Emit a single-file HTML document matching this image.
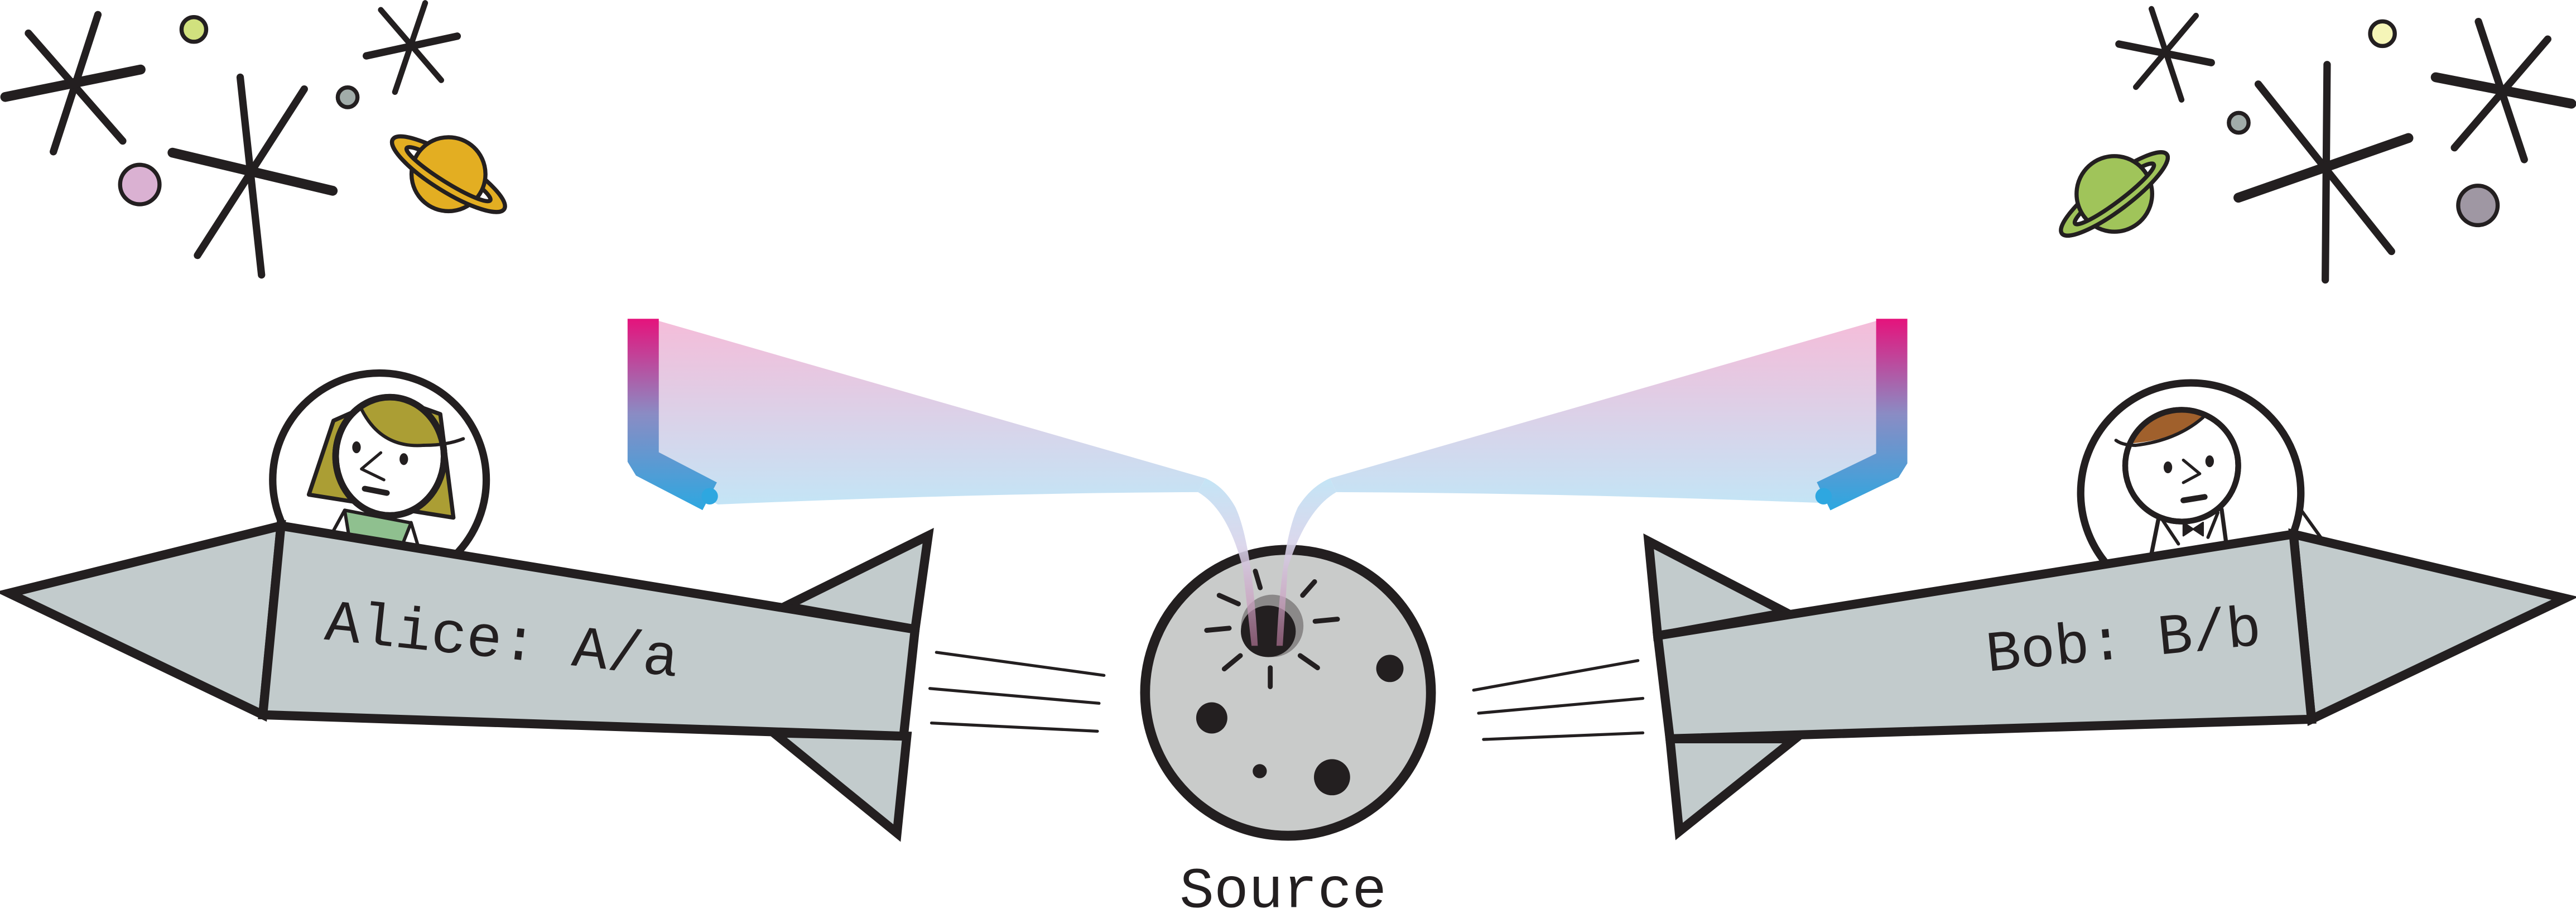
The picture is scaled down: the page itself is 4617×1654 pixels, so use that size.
<!DOCTYPE html>
<html><head><meta charset="utf-8"><style>html,body{margin:0;padding:0;background:#fff}svg{display:block}</style></head>
<body>
<svg width="4617" height="1654" viewBox="0 0 1568 561.7" xmlns="http://www.w3.org/2000/svg">
<defs>
<linearGradient id="bar" x1="0" y1="194" x2="0" y2="310" gradientUnits="userSpaceOnUse"><stop offset="0" stop-color="#e5137c"/><stop offset="0.5" stop-color="#8a8cc4"/><stop offset="1" stop-color="#2ea7e0"/></linearGradient>
<linearGradient id="fan" x1="0" y1="194" x2="0" y2="308" gradientUnits="userSpaceOnUse"><stop offset="0" stop-color="#f5bcd9"/><stop offset="1" stop-color="#c3e5f6"/></linearGradient>
<linearGradient id="tube" x1="0" y1="290" x2="0" y2="395" gradientUnits="userSpaceOnUse"><stop offset="0" stop-color="#c3e5f6" stop-opacity="1"/><stop offset="0.4" stop-color="#d8d3ea" stop-opacity="0.9"/><stop offset="1" stop-color="#c07aa0" stop-opacity="0.6"/></linearGradient>
<clipPath id="af"><ellipse cx="237.3" cy="277.7" rx="33" ry="36"/></clipPath>
<clipPath id="bf"><ellipse cx="1328" cy="283.4" rx="34.4" ry="34"/></clipPath>
<clipPath id="front"><rect x="-60" y="0" width="120" height="40"/></clipPath>
</defs>
<g stroke="#231f20" stroke-linecap="round" fill="none">
<g stroke-width="4.5">
<line x1="17.3" y1="20.2" x2="74.7" y2="85.8"/><line x1="59.6" y1="8.9" x2="32.5" y2="92.3"/><line x1="3.2" y1="59" x2="85.6" y2="42.3" stroke-width="6"/>
<line x1="146.2" y1="47" x2="159.2" y2="167.3"/><line x1="185.2" y1="54.2" x2="120.2" y2="155.4"/><line x1="105" y1="92.9" x2="202.5" y2="116.1" stroke-width="6"/>
<line x1="231.8" y1="6" x2="268.6" y2="48.8" stroke-width="3.5"/><line x1="258.8" y1="1.8" x2="240.4" y2="56" stroke-width="3.5"/><line x1="223" y1="34" x2="278.3" y2="22" stroke-width="4.5"/>
<line x1="1309.6" y1="5.4" x2="1327.9" y2="60.7" stroke-width="3.5"/><line x1="1336.7" y1="9.5" x2="1300.1" y2="53" stroke-width="3.5"/><line x1="1289.8" y1="26.8" x2="1346" y2="38.1"/>
<line x1="1416.5" y1="39.3" x2="1415.4" y2="170.3"/><line x1="1374.6" y1="51.2" x2="1455.7" y2="153"/><line x1="1362.5" y1="120.3" x2="1466" y2="84" stroke-width="6"/>
<line x1="1508.6" y1="13.1" x2="1536.5" y2="97.1"/><line x1="1550.8" y1="23.8" x2="1494" y2="89.9"/><line x1="1482.6" y1="47" x2="1565.2" y2="63.1" stroke-width="6"/>
</g>
<g stroke-width="2.5">
<circle cx="118" cy="17.9" r="7.5" fill="#d1e17e"/><circle cx="211.6" cy="59.2" r="6" fill="#a1aca9"/><circle cx="85.1" cy="112.3" r="12" fill="#dab1d2"/>
<circle cx="1450.2" cy="20.5" r="7.5" fill="#f5f5b8"/><circle cx="1362.7" cy="74.7" r="6" fill="#a1aca9"/><circle cx="1508.3" cy="125" r="12" fill="#9f97a3"/>
</g>
<g transform="translate(273,106) rotate(32)" stroke-width="2.5">
<path d="M-40,0 a40,10.5 0 1,0 80,0 a40,10.5 0 1,0 -80,0 Z M-30,0 a30,5 0 1,0 60,0 a30,5 0 1,0 -60,0 Z" fill="#e3ae22" fill-rule="evenodd"/>
<circle cx="0" cy="0" r="22.5" fill="#e3ae22"/>
<path clip-path="url(#front)" d="M-40,0 a40,10.5 0 1,0 80,0 a40,10.5 0 1,0 -80,0 Z M-30,0 a30,5 0 1,0 60,0 a30,5 0 1,0 -60,0 Z" fill="#e3ae22" fill-rule="evenodd"/>
</g>
<g transform="translate(1287,118) rotate(-37)" stroke-width="2.5">
<path d="M-40,0 a40,10 0 1,0 80,0 a40,10 0 1,0 -80,0 Z M-30,0 a30,5 0 1,0 60,0 a30,5 0 1,0 -60,0 Z" fill="#a0c45a" fill-rule="evenodd"/>
<circle cx="0" cy="0" r="23" fill="#a0c45a"/>
<path clip-path="url(#front)" d="M-40,0 a40,10 0 1,0 80,0 a40,10 0 1,0 -80,0 Z M-30,0 a30,5 0 1,0 60,0 a30,5 0 1,0 -60,0 Z" fill="#a0c45a" fill-rule="evenodd"/>
</g>
</g>

<path d="M400,195 L733.8,291.1 L729.2,299.5 Q600,300 437,307 L400,288 Z" fill="url(#fan)"/>
<path d="M1143,195 L809.6,291.1 L813.4,299.5 Q950,300 1107,306 L1143,288 Z" fill="url(#fan)"/>
<path d="M391.5,194 L391.5,281 L432,302" stroke="url(#bar)" stroke-width="19" fill="none" stroke-linejoin="bevel"/>
<circle cx="432" cy="302" r="5" fill="#2ea7e0"/>
<path d="M1151.5,194 L1151.5,282 L1110,302" stroke="url(#bar)" stroke-width="19" fill="none" stroke-linejoin="bevel"/>
<circle cx="1110" cy="302" r="5" fill="#2ea7e0"/>

<circle cx="784" cy="421.6" r="87" fill="#c9cbca" stroke="#231f20" stroke-width="6"/>
<circle cx="774.4" cy="380.9" r="19" fill="#8b8989"/>
<ellipse cx="772" cy="384.2" rx="16.7" ry="15.7" fill="#231f20"/>
<g stroke="#231f20" stroke-width="3" stroke-linecap="round">
<line x1="764.1" y1="347.6" x2="767.1" y2="357.7"/><line x1="742.1" y1="362.3" x2="753.8" y2="367.5"/><line x1="734.5" y1="383.6" x2="748.2" y2="382.3"/><line x1="745.2" y1="407.1" x2="755" y2="399"/><line x1="773.2" y1="406.4" x2="773.2" y2="417.9"/><line x1="791.4" y1="399" x2="802" y2="406.4"/><line x1="800.5" y1="378.1" x2="814.1" y2="376.8"/><line x1="792.9" y1="362.3" x2="800.2" y2="354"/>
</g>
<g fill="#231f20"><circle cx="846" cy="406.8" r="8.3"/><circle cx="737.6" cy="436.9" r="9.5"/><circle cx="766.8" cy="469.3" r="4.3"/><circle cx="810.8" cy="473" r="11"/></g>
<path d="M729.2,299.5 Q747.4,310 756.5,345.7 L761.8,393 L765.6,393 Q762,330 752,308.7 Q745,296 733.8,291.1 Z" fill="url(#tube)"/>
<path d="M813.4,299.5 Q795,310 783.8,345.7 L780.8,393 L777,393 Q780,330 790,308.7 Q798,296 809.6,291.1 Z" fill="url(#tube)"/>
<text x="781" y="552" font-family="Liberation Mono, monospace" font-size="35" text-anchor="middle" fill="#231f20">Source</text>

<g stroke="#231f20" stroke-linecap="round" stroke-linejoin="round">
<circle cx="231" cy="292" r="65" fill="#fff" stroke-width="4.5"/>
<polygon points="188,301 203,256 237,241 268,252 276,315" fill="#ab9e34" stroke-width="2.5"/>
<polygon points="209.8,310.5 250.2,318.2 244.7,332 212.7,328" fill="#8fc08f" stroke-width="2"/>
<line x1="209.8" y1="310.5" x2="202.4" y2="324" stroke-width="2"/><line x1="250.2" y1="318" x2="254.7" y2="333" stroke-width="2"/>
<ellipse cx="237.3" cy="277.7" rx="33" ry="36" fill="#fff" stroke-width="4"/>
<path clip-path="url(#af)" d="M200,235 L220,249 Q232,273 258,271 L292,268 L292,235 Z" fill="#ab9e34" stroke="none"/>
<ellipse cx="237.3" cy="277.7" rx="33" ry="36" fill="none" stroke-width="4"/>
<path d="M220,249 Q232,273 258,271 Q272,271 282,267" fill="none" stroke-width="2"/>
<ellipse cx="217" cy="272.2" rx="2.6" ry="3.6" fill="#231f20" stroke="none"/><ellipse cx="245.8" cy="279.4" rx="2.6" ry="3.6" fill="#231f20" stroke="none"/>
<polyline points="231.8,275.5 220,285.4 233.7,292" fill="none" stroke-width="1.8"/>
<line x1="222" y1="297.4" x2="235.5" y2="300" stroke-width="3.5"/>
</g>
<g stroke="#231f20" stroke-linecap="round" stroke-linejoin="round">
<circle cx="1333.5" cy="300" r="67" fill="#fff" stroke-width="4.5"/>
<line x1="1399.6" y1="308.9" x2="1412.6" y2="327" stroke-width="2"/>
<polygon points="1314,315 1352,310 1355,330 1310,336" fill="#fff" stroke="none"/>
<line x1="1314" y1="315" x2="1309.6" y2="337" stroke-width="2.5"/><line x1="1352.3" y1="310" x2="1355" y2="330" stroke-width="2.5"/>
<line x1="1316" y1="316" x2="1326" y2="331" stroke-width="2"/><line x1="1350" y1="312" x2="1344" y2="327" stroke-width="2"/>
<polygon points="1329,318 1335,322 1329,326" fill="#231f20" stroke-width="1"/><polygon points="1341,318 1335,322 1341,326" fill="#231f20" stroke-width="1"/>
<ellipse cx="1328" cy="283.4" rx="34.4" ry="34" fill="#fff" stroke-width="3.5"/>
<path clip-path="url(#bf)" d="M1290,240 L1290,270 Q1320,270 1341,254.7 L1345,240 Z" fill="#a0602c" stroke="none"/>
<ellipse cx="1328" cy="283.4" rx="34.4" ry="34" fill="none" stroke-width="3.5"/>
<path d="M1288,268 Q1292,271 1300,271 Q1325,268 1341,254" fill="none" stroke-width="2"/>
<ellipse cx="1319.6" cy="284.4" rx="2.6" ry="3.6" fill="#231f20" stroke="none"/><ellipse cx="1345" cy="280.7" rx="2.6" ry="3.6" fill="#231f20" stroke="none"/>
<polyline points="1329,280 1339,288.3 1329,293.7" fill="none" stroke-width="1.8"/>
<line x1="1329" y1="304.5" x2="1342" y2="302.4" stroke-width="3.5"/>
</g>

<g stroke="#231f20" stroke-width="5.5" stroke-linejoin="miter" fill="#c2cbcc">
<polygon points="478,369 565,326 557,383"/>
<polygon points="471,446 546,507 552,448"/>
<polygon points="171,320 5.5,361 160,435"/>
<polygon points="171,320 557,383 550,448 160,435"/>
<polygon points="1003.5,329.4 1087.2,372.8 1009,387"/>
<polygon points="1016.5,449.6 1092.7,449.6 1022.1,506"/>
<polygon points="1396,325.1 1561.3,364.1 1407,437.7"/>
<polygon points="1009,386.8 1396,325.1 1407,437.7 1016.5,449.6"/>
</g>
<text transform="translate(197,389) rotate(6)" font-family="Liberation Mono, monospace" font-size="36" fill="#231f20">Alice: A/a</text>
<text transform="translate(1210,408.5) rotate(-5.6)" font-family="Liberation Mono, monospace" font-size="35" fill="#231f20">Bob: B/b</text>

<g stroke="#231f20" stroke-width="1.8" stroke-linecap="round">
<line x1="570" y1="397" x2="672" y2="411"/><line x1="566" y1="419" x2="669" y2="428"/><line x1="567" y1="440" x2="668" y2="445"/>
<line x1="897" y1="420" x2="997" y2="402"/><line x1="900" y1="434" x2="1000" y2="425"/><line x1="903" y1="450" x2="1000" y2="446"/>
</g>
</svg>
</body></html>
